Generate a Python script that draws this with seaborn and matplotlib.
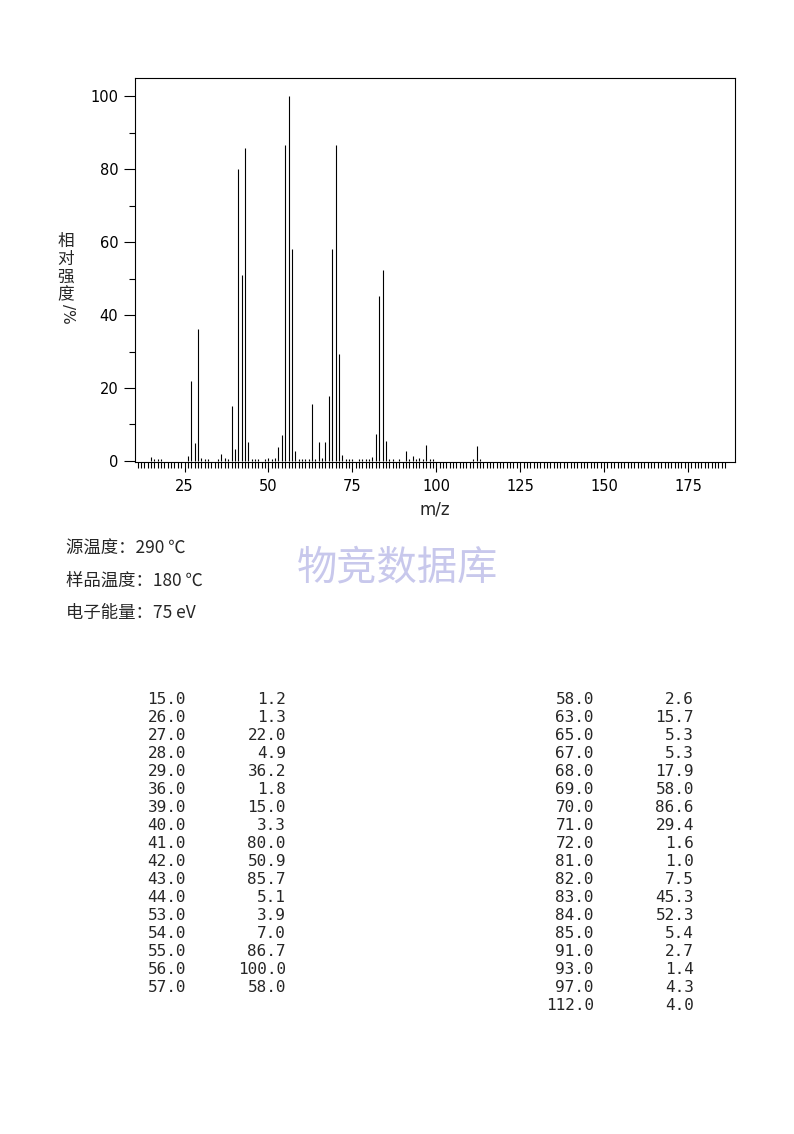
import numpy as np
import pandas as pd
import matplotlib
matplotlib.use('Agg')
import matplotlib.pyplot as plt
from matplotlib.ticker import MultipleLocator
import seaborn as sns

# peaks listed in the table (m/z, relative intensity %)
mz_left = [15.0, 26.0, 27.0, 28.0, 29.0, 36.0, 39.0, 40.0, 41.0, 42.0, 43.0,
           44.0, 53.0, 54.0, 55.0, 56.0, 57.0]
int_left = [1.2, 1.3, 22.0, 4.9, 36.2, 1.8, 15.0, 3.3, 80.0, 50.9, 85.7,
            5.1, 3.9, 7.0, 86.7, 100.0, 58.0]
mz_right = [58.0, 63.0, 65.0, 67.0, 68.0, 69.0, 70.0, 71.0, 72.0, 81.0, 82.0,
            83.0, 84.0, 85.0, 91.0, 93.0, 97.0, 112.0]
int_right = [2.6, 15.7, 5.3, 5.3, 17.9, 58.0, 86.6, 29.4, 1.6, 1.0, 7.5,
             45.3, 52.3, 5.4, 2.7, 1.4, 4.3, 4.0]

# small peaks visible on the plot but below the table cut-off (estimated)
mz_small = [16, 17, 18, 30, 31, 32, 35, 37, 38, 45, 46, 47, 49, 50, 51, 52,
            59, 60, 61, 62, 64, 66, 73, 74, 75, 77, 78, 79, 80, 86, 87, 89,
            92, 94, 95, 96, 98, 99, 111, 113]
int_small = [0.5, 0.4, 0.6, 0.7, 0.5, 0.6, 0.4, 0.7, 0.5, 0.6, 0.5, 0.4, 0.5, 0.7,
             0.6, 0.8, 0.6, 0.5, 0.4, 0.5, 0.6, 0.7, 0.6, 0.5, 0.4, 0.4, 0.5, 0.6,
             0.5, 0.6, 0.5, 0.4, 0.6, 0.5, 0.7, 0.5, 0.5, 0.4, 0.4, 0.6]

x_ticks = [25, 50, 75, 100, 125, 150, 175]
y_ticks = [0, 20, 40, 60, 80, 100]

info_lines = ['源温度：290 ℃', '样品温度：180 ℃', '电子能量：75 eV']
watermark = '物竞数据库'

spec = pd.DataFrame({'mz': mz_left + mz_right + mz_small,
                     'intensity': int_left + int_right + int_small})

sns.set_theme(style='white')
plt.rcParams['font.family'] = ['Noto Sans CJK SC', 'DejaVu Sans']

fig = plt.figure(figsize=(7.94, 11.34), dpi=100)
ax = fig.add_axes([135 / 794, 1 - 462 / 1134, 600 / 794, 384 / 1134])

ax.vlines(spec['mz'], 0, spec['intensity'], color='black', linewidth=0.8)

ax.set_xlim(10.25, 189)
ax.set_ylim(-0.3, 105)
ax.set_xticks(x_ticks)
ax.set_yticks(y_ticks)
ax.xaxis.set_minor_locator(plt.FixedLocator(np.arange(11, 187, 1)))
ax.yaxis.set_minor_locator(MultipleLocator(10))
ax.tick_params(axis='both', which='both', direction='out', color='black',
               width=0.8, labelsize=10.5, labelcolor='black', bottom=True, left=True)
ax.tick_params(axis='x', which='major', length=7, pad=5)
ax.tick_params(axis='x', which='minor', length=4)
ax.tick_params(axis='y', which='major', length=8, pad=4)
ax.tick_params(axis='y', which='minor', length=4.5)
for lab in ax.get_xticklabels() + ax.get_yticklabels():
    lab.set_family('DejaVu Sans')
for s in ax.spines.values():
    s.set_color('black')
    s.set_linewidth(0.8)

ax.set_xlabel('m/z', fontsize=12, family='DejaVu Sans', labelpad=5)

# stacked Chinese y label
fig.text(66 / 794, 1 - 268 / 1134, '相\n对\n强\n度', ha='center', va='center',
         fontsize=12, linespacing=1.05)
fig.text(67 / 794, 1 - 314 / 1134, '/%', ha='center', va='center',
         fontsize=11, rotation=-90, family='DejaVu Sans')

for i, line in enumerate(info_lines):
    fig.text(66 / 794, 1 - (549 + 32 * i) / 1134, line, ha='left', va='center',
             fontsize=12.5)

fig.text(397 / 794, 1 - 568 / 1134, watermark, ha='center', va='center',
         fontsize=29, color='#c8c8ec')

# peak table
row_h = 18
tfont = dict(fontsize=11.5, family='DejaVu Sans Mono', ha='right', va='center')
for i, (m, v) in enumerate(zip(mz_left, int_left)):
    y = 1 - (700 + row_h * i) / 1134
    fig.text(186 / 794, y, f'{m:.1f}', **tfont)
    fig.text(286 / 794, y, f'{v:.1f}', **tfont)
for i, (m, v) in enumerate(zip(mz_right, int_right)):
    y = 1 - (700 + row_h * i) / 1134
    fig.text(594 / 794, y, f'{m:.1f}', **tfont)
    fig.text(694 / 794, y, f'{v:.1f}', **tfont)

fig.savefig('out.png', dpi=100, facecolor='white')
